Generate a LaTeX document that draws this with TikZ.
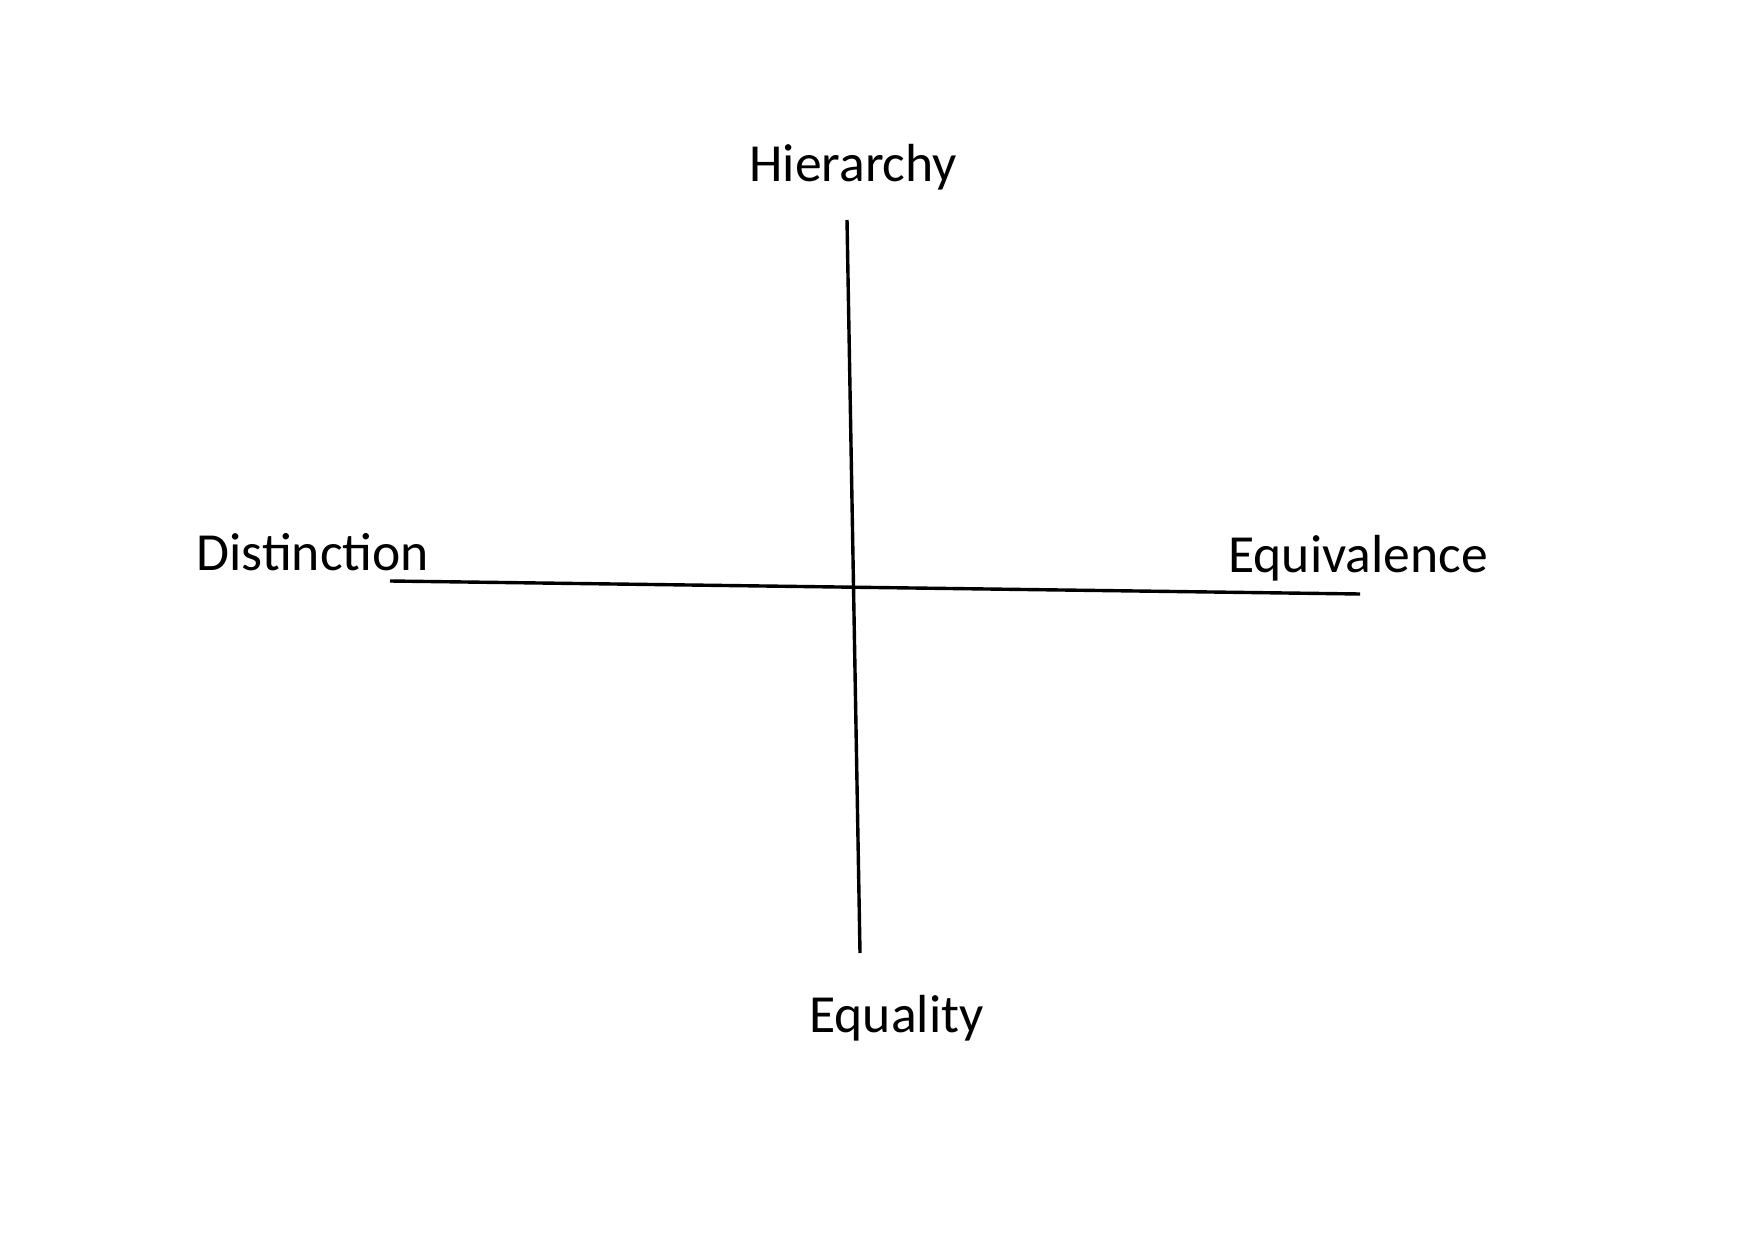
\documentclass[tikz,border=0pt]{standalone}
\usepackage{fontspec}
\setmainfont{Carlito}
\begin{document}
\begin{tikzpicture}[x=0.5pt,y=-0.5pt,
  lbl/.style={anchor=base west,inner sep=0pt,font=\fontsize{26.8}{30}\selectfont},
  axis/.style={line width=1.7pt,black}]
\useasboundingbox (0,0) rectangle (1754,1240);
\node[lbl] (hier) at (749,182) {Hierarchy};
\node[lbl] (dist) at (196,570) {Distinction};
\node[lbl] (equiv) at (1228,572) {Equivalence};
\node[lbl] (equal) at (809,1032) {Equality};
\coordinate (vtop) at (847,220);
\coordinate (vbot) at (860,953);
\coordinate (hleft) at (390,581);
\coordinate (hright) at (1360,594);
\draw[axis] (vtop) -- (vbot);
\draw[axis] (hleft) -- (hright);
\end{tikzpicture}
\end{document}
